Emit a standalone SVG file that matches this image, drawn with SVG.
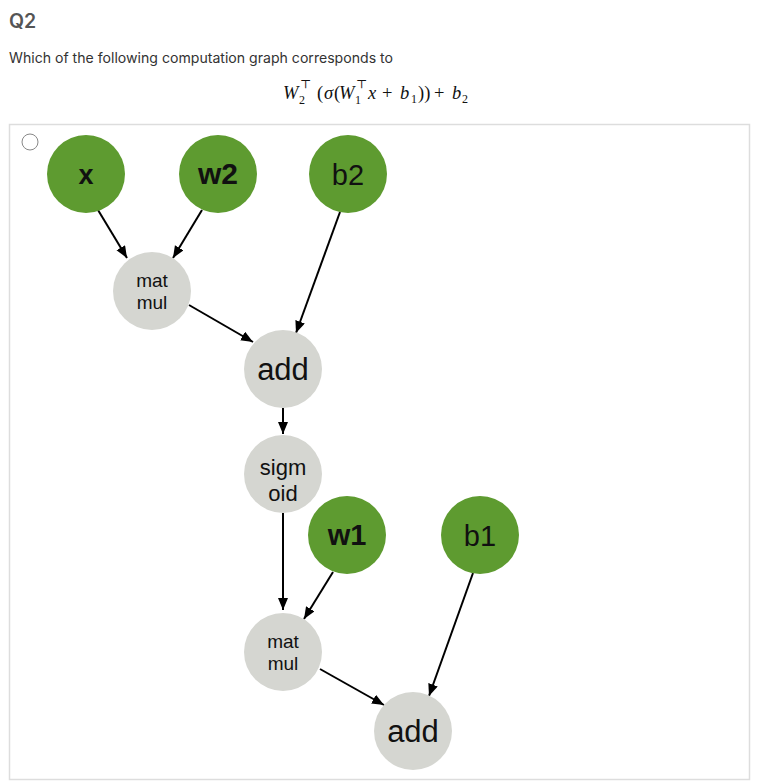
<svg xmlns="http://www.w3.org/2000/svg" width="757" height="783" viewBox="0 0 757 783">
<defs>
<style>
.g{fill:#5e9b30}
.n{fill:#d5d6d1}
.lbl{font-family:"Liberation Sans",Arial,sans-serif;fill:#111;text-anchor:middle}
.b{font-weight:bold}
.e{stroke:#000;stroke-width:2;fill:none;marker-end:url(#ah)}
.m{font-family:"Liberation Serif","DejaVu Serif",serif;fill:#111}
</style>
<marker id="ah" markerUnits="userSpaceOnUse" markerWidth="13" markerHeight="11" refX="12" refY="5" orient="auto">
<path d="M0,0 L12,5 L0,10 z" fill="#000"/>
</marker>
</defs>
<rect width="757" height="783" fill="#fff"/>
<text x="9" y="28" font-family="Inter,'Liberation Sans',sans-serif" font-size="19.5" font-weight="600" fill="#555">Q2</text>
<text x="9" y="63" font-family="Inter,'Liberation Sans',sans-serif" font-size="14.1" fill="#333">Which of the following computation graph corresponds to</text>
<g id="formula">
<text class="m" font-size="18.5" y="99"><tspan x="283" font-style="italic">W</tspan><tspan x="300" y="88" font-size="12">⊤</tspan><tspan x="299" y="104" font-size="12">2</tspan><tspan x="317" y="99">(</tspan><tspan x="324" font-style="italic">σ</tspan><tspan x="334">(</tspan><tspan x="339" font-style="italic">W</tspan><tspan x="356" y="88" font-size="12">⊤</tspan><tspan x="355" y="104" font-size="12">1</tspan><tspan x="368" y="99" font-style="italic">x</tspan><tspan x="382">+</tspan><tspan x="400" font-style="italic">b</tspan><tspan x="411" y="103" font-size="12">1</tspan><tspan x="418" y="99">))</tspan><tspan x="434">+</tspan><tspan x="452" font-style="italic">b</tspan><tspan x="462" y="103" font-size="12">2</tspan></text>
</g>
<rect x="9.5" y="124.5" width="740" height="655" fill="#fff" stroke="#ddd" stroke-width="1.5"/>
<circle cx="30" cy="142" r="8" fill="#fff" stroke="#888" stroke-width="1"/>
<g id="connectors">
<line class="e" x1="98" y1="210" x2="127" y2="258"/>
<line class="e" x1="202" y1="210" x2="173" y2="258"/>
<line class="e" x1="340" y1="212" x2="296" y2="333"/>
<line class="e" x1="189" y1="305" x2="253" y2="342"/>
<line class="e" x1="283" y1="408" x2="283" y2="434"/>
<line class="e" x1="283" y1="513" x2="283" y2="610"/>
<line class="e" x1="333" y1="572" x2="304" y2="619"/>
<line class="e" x1="473" y1="573" x2="429" y2="696"/>
<line class="e" x1="320" y1="669" x2="384" y2="705"/>
</g>
<g id="node-x"><circle class="g" cx="86" cy="174" r="39"/><text class="lbl b" x="86" y="184" font-size="27">x</text></g>
<g id="node-w2"><circle class="g" cx="218" cy="174" r="39"/><text class="lbl b" x="218" y="184" font-size="30">w2</text></g>
<g id="node-b2"><circle class="g" cx="348" cy="174" r="39"/><text class="lbl" x="348" y="185" font-size="29">b2</text></g>
<g id="node-matmul1"><circle class="n" cx="152" cy="291" r="39"/><text class="lbl" x="152" y="287" font-size="19">mat</text><text class="lbl" x="152" y="309" font-size="19">mul</text></g>
<g id="node-add1"><circle class="n" cx="283" cy="369" r="39"/><text class="lbl" x="283" y="380" font-size="31">add</text></g>
<g id="node-sigmoid"><circle class="n" cx="283" cy="474" r="39"/><text class="lbl" x="283" y="475" font-size="22">sigm</text><text class="lbl" x="283" y="501" font-size="22">oid</text></g>
<g id="node-w1"><circle class="g" cx="347" cy="535" r="39"/><text class="lbl b" x="347" y="545" font-size="29">w1</text></g>
<g id="node-b1"><circle class="g" cx="480" cy="535" r="39"/><text class="lbl" x="480" y="546" font-size="29">b1</text></g>
<g id="node-matmul2"><circle class="n" cx="283" cy="652" r="39"/><text class="lbl" x="283" y="648" font-size="19">mat</text><text class="lbl" x="283" y="670" font-size="19">mul</text></g>
<g id="node-add2"><circle class="n" cx="413" cy="731" r="39"/><text class="lbl" x="413" y="742" font-size="31">add</text></g>
</svg>
